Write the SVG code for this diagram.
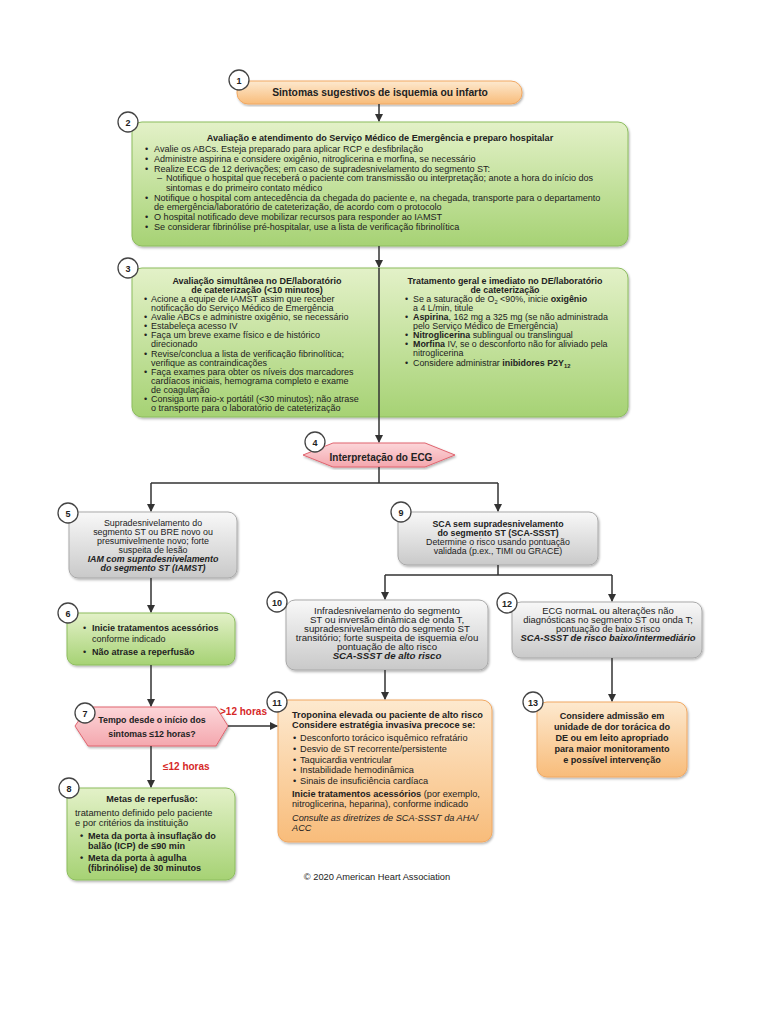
<svg xmlns="http://www.w3.org/2000/svg" width="768" height="1024" viewBox="0 0 768 1024">
<defs>
<linearGradient id="gGreen" x1="0" y1="0" x2="0" y2="1"><stop offset="0" stop-color="#e3f1c8"/><stop offset="1" stop-color="#a6d274"/></linearGradient>
<linearGradient id="gOrange" x1="0" y1="0" x2="0" y2="1"><stop offset="0" stop-color="#fde9cf"/><stop offset="1" stop-color="#f8bc7a"/></linearGradient>
<linearGradient id="gGray" x1="0" y1="0" x2="0" y2="1"><stop offset="0" stop-color="#f8f8f8"/><stop offset="1" stop-color="#c9c9c9"/></linearGradient>
<linearGradient id="gPink" x1="0" y1="0" x2="0" y2="1"><stop offset="0" stop-color="#fcd6d9"/><stop offset="1" stop-color="#f4a7ae"/></linearGradient>
<filter id="sh" x="-5%" y="-5%" width="110%" height="115%"><feDropShadow dx="1" dy="1.5" stdDeviation="1.2" flood-color="#000" flood-opacity="0.3"/></filter>
<marker id="arr" markerWidth="8" markerHeight="8" refX="7" refY="4" orient="auto" markerUnits="userSpaceOnUse"><path d="M0,0 L8,4 L0,8 z" fill="#333"/></marker>
</defs>
<style>
text{font-family:"Liberation Sans",Arial,sans-serif;fill:#222;}
.t{font-size:9px;}
.b{font-weight:bold;}
.i{font-style:italic;}
.c{text-anchor:middle;}
.m{font-size:9px;}
.num{font-size:9px;font-weight:bold;text-anchor:middle;}
.circ{fill:#fff;stroke:#444;stroke-width:1.3;}
.green{fill:url(#gGreen);stroke:#8cbd5e;stroke-width:1;filter:url(#sh);}
.orange{fill:url(#gOrange);stroke:#f1a862;stroke-width:1;filter:url(#sh);}
.gray{fill:url(#gGray);stroke:#a9a9a9;stroke-width:1;filter:url(#sh);}
.pink{fill:url(#gPink);stroke:#e0646f;stroke-width:1;filter:url(#sh);}
.red{fill:#d62828;font-weight:bold;font-size:10px;}
.conn{stroke:#333;stroke-width:1.5;fill:none;}
</style>
<rect width="768" height="1024" fill="#fff"/>

<g id="node1">
<rect class="orange" x="237" y="81" width="285" height="23" rx="11"/>
<text class="b c" x="380" y="96" font-size="10.3">Sintomas sugestivos de isquemia ou infarto</text>
<circle class="circ" cx="239" cy="80" r="10"/><text class="num" x="239" y="83.5">1</text>
</g>

<g id="node2">
<rect class="green" x="132" y="122" width="496" height="124" rx="10"/>
<g font-size="9.1">
<text class="b c" x="380" y="141">Avaliação e atendimento do Serviço Médico de Emergência e preparo hospitalar</text>
<text x="145" y="152">•</text><text x="154" y="152">Avalie os ABCs. Esteja preparado para aplicar RCP e desfibrilação</text>
<text x="145" y="162">•</text><text x="154" y="162">Administre aspirina e considere oxigênio, nitroglicerina e morfina, se necessário</text>
<text x="145" y="171.5">•</text><text x="154" y="171.5">Realize ECG de 12 derivações; em caso de supradesnivelamento do segmento ST:</text>
<text x="157" y="181">–</text><text x="166" y="181">Notifique o hospital que receberá o paciente com transmissão ou interpretação; anote a hora do início dos</text>
<text x="166" y="190.5">sintomas e do primeiro contato médico</text>
<text x="145" y="200.5">•</text><text x="154" y="200.5">Notifique o hospital com antecedência da chegada do paciente e, na chegada, transporte para o departamento</text>
<text x="154" y="210">de emergência/laboratório de cateterização, de acordo com o protocolo</text>
<text x="145" y="220">•</text><text x="154" y="220">O hospital notificado deve mobilizar recursos para responder ao IAMST</text>
<text x="145" y="230">•</text><text x="154" y="230">Se considerar fibrinólise pré-hospitalar, use a lista de verificação fibrinolítica</text>
</g>
<circle class="circ" cx="128" cy="122" r="10"/><text class="num" x="128" y="125.5">2</text>
</g>

<g id="node3">
<rect class="green" x="132" y="268" width="496" height="149" rx="10"/>
<g class="t">
<text class="b c" x="257" y="284">Avaliação simultânea no DE/laboratório</text>
<text class="b c" x="257" y="293">de cateterização (&lt;10 minutos)</text>
<text x="144" y="302">•</text><text x="151" y="302">Acione a equipe de IAMST assim que receber</text>
<text x="151" y="311">notificação do Serviço Médico de Emergência</text>
<text x="144" y="320">•</text><text x="151" y="320">Avalie ABCs e administre oxigênio, se necessário</text>
<text x="144" y="329">•</text><text x="151" y="329">Estabeleça acesso IV</text>
<text x="144" y="338">•</text><text x="151" y="338">Faça um breve exame físico e de histórico</text>
<text x="151" y="347">direcionado</text>
<text x="144" y="356.5">•</text><text x="151" y="356.5">Revise/conclua a lista de verificação fibrinolítica;</text>
<text x="151" y="365.5">verifique as contraindicações</text>
<text x="144" y="374.5">•</text><text x="151" y="374.5">Faça exames para obter os níveis dos marcadores</text>
<text x="151" y="383.5">cardíacos iniciais, hemograma completo e exame</text>
<text x="151" y="392.5">de coagulação</text>
<text x="144" y="402">•</text><text x="151" y="402">Consiga um raio-x portátil (&lt;30 minutos); não atrase</text>
<text x="151" y="411">o transporte para o laboratório de cateterização</text>
</g>
<g font-size="8.9">
<text class="b c" x="505" y="284">Tratamento geral e imediato no DE/laboratório</text>
<text class="b c" x="505" y="293">de cateterização</text>
<text x="405" y="302">•</text><text x="413" y="302">Se a saturação de O<tspan font-size="5.8" dy="2">2</tspan><tspan dy="-2"> &lt;90%, inicie </tspan><tspan class="b">oxigênio</tspan></text>
<text x="413" y="311">a 4 L/min, titule</text>
<text x="405" y="320">•</text><text x="413" y="320"><tspan class="b">Aspirina</tspan>, 162 mg a 325 mg (se não administrada</text>
<text x="413" y="329">pelo Serviço Médico de Emergência)</text>
<text x="405" y="338">•</text><text x="413" y="338"><tspan class="b">Nitroglicerina</tspan> sublingual ou translingual</text>
<text x="405" y="347">•</text><text x="413" y="347"><tspan class="b">Morfina</tspan> IV, se o desconforto não for aliviado pela</text>
<text x="413" y="356">nitroglicerina</text>
<text x="405" y="365.5">•</text><text x="413" y="365.5">Considere administrar <tspan class="b">inibidores P2Y</tspan><tspan class="b" font-size="5.8" dy="2">12</tspan></text>
</g>
<circle class="circ" cx="128" cy="268" r="10"/><text class="num" x="128" y="271.5">3</text>
</g>

<g id="node4">
<polygon class="pink" points="303,455 333,443 425,443 455,455 425,467 333,467"/>
<text class="b c" x="381" y="460.5" font-size="10">Interpretação do ECG</text>
<circle class="circ" cx="315" cy="442" r="10"/><text class="num" x="315" y="445.5">4</text>
</g>

<g id="node5">
<rect class="gray" x="69" y="512" width="168" height="66" rx="9"/>
<g class="c" font-size="8.9">
<text x="153" y="526">Supradesnivelamento do</text>
<text x="153" y="535">segmento ST ou BRE novo ou</text>
<text x="153" y="544">presumivelmente novo; forte</text>
<text x="153" y="553">suspeita de lesão</text>
<text x="153" y="562" class="b i">IAM com supradesnivelamento</text>
<text x="153" y="571" class="b i">do segmento ST (IAMST)</text>
</g>
<circle class="circ" cx="68" cy="513" r="10"/><text class="num" x="68" y="516.5">5</text>
</g>

<g id="node6">
<rect class="green" x="67" y="613" width="168" height="52" rx="9"/>
<g class="m">
<text x="83" y="631">•</text><text x="92" y="631" class="b">Inicie tratamentos acessórios</text>
<text x="92" y="642">conforme indicado</text>
<text x="83" y="654.5">•</text><text x="92" y="654.5" class="b">Não atrase a reperfusão</text>
</g>
<circle class="circ" cx="68" cy="613" r="10"/><text class="num" x="68" y="616.5">6</text>
</g>

<g id="node7">
<polygon class="pink" points="75,726 88,707 216,707 228,726 216,746 88,746"/>
<text class="b c" x="152" y="723" font-size="8.8">Tempo desde o início dos</text>
<text class="b c" x="152" y="737" font-size="8.8">sintomas ≤12 horas?</text>
<circle class="circ" cx="85" cy="713" r="10"/><text class="num" x="85" y="716.5">7</text>
</g>

<g id="node8">
<rect class="green" x="67" y="788" width="168" height="92" rx="9"/>
<g font-size="9.1">
<text x="152" y="802" class="b c">Metas de reperfusão:</text>
<text x="75" y="816" font-size="9.3">tratamento definido pelo paciente</text>
<text x="75" y="826" font-size="9.3">e por critérios da instituição</text>
<text x="80" y="838.5" class="b">•</text><text x="88" y="838.5" class="b">Meta da porta à insuflação do</text>
<text x="88" y="848.5" class="b">balão (ICP) de ≤90 min</text>
<text x="80" y="860.5" class="b">•</text><text x="88" y="860.5" class="b">Meta da porta à agulha</text>
<text x="88" y="871" class="b">(fibrinólise) de 30 minutos</text>
</g>
<circle class="circ" cx="69" cy="788" r="10"/><text class="num" x="69" y="791.5">8</text>
</g>

<g id="node9">
<rect class="gray" x="398" y="512" width="200" height="53" rx="9"/>
<g class="c" font-size="8.8">
<text x="498" y="527" class="b">SCA sem supradesnivelamento</text>
<text x="498" y="536" class="b">do segmento ST (SCA-SSST)</text>
<text x="498" y="545">Determine o risco usando pontuação</text>
<text x="498" y="554">validada (p.ex., TIMI ou GRACE)</text>
</g>
<circle class="circ" cx="401" cy="512" r="10"/><text class="num" x="401" y="515.5">9</text>
</g>

<g id="node10">
<rect class="gray" x="286" y="600" width="202" height="70" rx="9"/>
<g class="c" font-size="9.7">
<text x="387" y="613.5">Infradesnivelamento do segmento</text>
<text x="387" y="622.5">ST ou inversão dinâmica de onda T,</text>
<text x="387" y="631.5">supradesnivelamento do segmento ST</text>
<text x="387" y="640.5">transitório; forte suspeita de isquemia e/ou</text>
<text x="387" y="649.5">pontuação de alto risco</text>
<text x="387" y="658.5" class="b i">SCA-SSST de alto risco</text>
</g>
<circle class="circ" cx="277" cy="602" r="10"/><text class="num" x="277" y="605.5">10</text>
</g>

<g id="node11">
<rect class="orange" x="278" y="700" width="214" height="142" rx="10"/>
<g font-size="9.2">
<text x="292" y="718" class="b">Troponina elevada ou paciente de alto risco</text>
<text x="292" y="728" class="b">Considere estratégia invasiva precoce se:</text>
<text x="293" y="741">•</text><text x="300" y="741">Desconforto torácico isquêmico refratário</text>
<text x="293" y="752">•</text><text x="300" y="752">Desvio de ST recorrente/persistente</text>
<text x="293" y="762.5">•</text><text x="300" y="762.5">Taquicardia ventricular</text>
<text x="293" y="773">•</text><text x="300" y="773">Instabilidade hemodinâmica</text>
<text x="293" y="783.5">•</text><text x="300" y="783.5">Sinais de insuficiência cardíaca</text>
<text x="292" y="797"><tspan class="b">Inicie tratamentos acessórios</tspan> (por exemplo,</text>
<text x="292" y="807">nitroglicerina, heparina), conforme indicado</text>
<text x="292" y="821" class="i">Consulte as diretrizes de SCA-SSST da AHA/</text>
<text x="292" y="831" class="i">ACC</text>
</g>
<circle class="circ" cx="277" cy="702" r="10"/><text class="num" x="277" y="705.5">11</text>
</g>

<g id="node12">
<rect class="gray" x="512" y="602" width="190" height="56" rx="9"/>
<g class="c" font-size="9.4">
<text x="608" y="614">ECG normaL ou alterações não</text>
<text x="608" y="623">diagnósticas no segmento ST ou onda T;</text>
<text x="608" y="632">pontuação de baixo risco</text>
<text x="608" y="641" class="b i">SCA-SSST de risco baixo/intermediário</text>
</g>
<circle class="circ" cx="507" cy="603" r="10"/><text class="num" x="507" y="606.5">12</text>
</g>

<g id="node13">
<rect class="orange" x="537" y="702" width="150" height="75" rx="10"/>
<g class="b c" font-size="9.1">
<text x="612" y="718.5">Considere admissão em</text>
<text x="612" y="729.5">unidade de dor torácica do</text>
<text x="612" y="740.5">DE ou em leito apropriado</text>
<text x="612" y="751.5">para maior monitoramento</text>
<text x="612" y="762.5">e possível intervenção</text>
</g>
<circle class="circ" cx="533" cy="702" r="10"/><text class="num" x="533" y="705.5">13</text>
</g>

<g id="connectors">
<path class="conn" d="M379,104 V121" marker-end="url(#arr)"/>
<path class="conn" d="M379,246 V267" marker-end="url(#arr)"/>
<path class="conn" d="M379,268 V442" marker-end="url(#arr)"/>
<path class="conn" d="M379,467 V483 M151,483 H498"/>
<path class="conn" d="M151,483 V511" marker-end="url(#arr)"/>
<path class="conn" d="M498,483 V511" marker-end="url(#arr)"/>
<path class="conn" d="M498,565 V575 M385,575 H612"/>
<path class="conn" d="M385,575 V599" marker-end="url(#arr)"/>
<path class="conn" d="M612,575 V601" marker-end="url(#arr)"/>
<path class="conn" d="M151,578 V612" marker-end="url(#arr)"/>
<path class="conn" d="M151,665 V706" marker-end="url(#arr)"/>
<path class="conn" d="M151,746 V787" marker-end="url(#arr)"/>
<path class="conn" d="M228,726 H277" marker-end="url(#arr)"/>
<path class="conn" d="M385,670 V699" marker-end="url(#arr)"/>
<path class="conn" d="M612,658 V701" marker-end="url(#arr)"/>
<text class="red" x="220" y="714.5">&gt;12 horas</text>
<text class="red" x="163" y="770">≤12 horas</text>
</g>

<text class="c" font-size="9.3" x="377" y="880">© 2020 American Heart Association</text>
</svg>
